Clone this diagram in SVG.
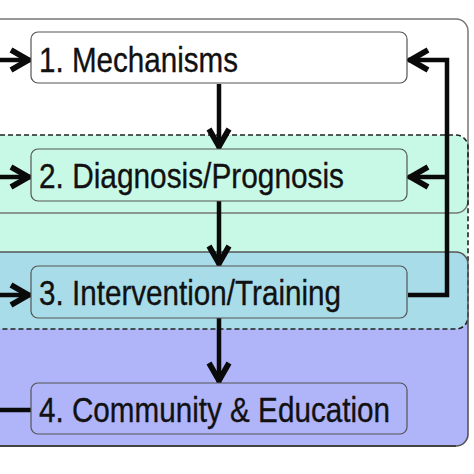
<svg xmlns="http://www.w3.org/2000/svg" width="474" height="474" viewBox="0 0 474 474">
<style>
.lbl{font-family:"Liberation Sans",Arial,sans-serif;font-size:35px;fill:#111;stroke:#111;stroke-width:0.35}
.box{stroke:#555;stroke-width:1.2}
.con{fill:none;stroke:#0a0a0a;stroke-width:4.5;stroke-linejoin:miter}
</style>
<defs>
<marker id="ah" markerUnits="userSpaceOnUse" markerWidth="30" markerHeight="30" viewBox="-20 -12 24 24" refX="0" refY="0" orient="auto" overflow="visible">
<path d="M-16,-8 L-2,0 L-16,8" fill="none" stroke="#0a0a0a" stroke-width="4.5" stroke-linejoin="miter" stroke-linecap="butt"/>
</marker>
</defs>
<rect width="474" height="474" fill="#ffffff"/>
<g id="frames">
<rect x="-20" y="135" width="488" height="194" rx="12" fill="#c8f8e6"/>
<rect x="-20" y="252" width="488" height="194" rx="12" fill="#b0b4f8"/>
<path d="M-20,252 H456 A12,12 0 0 1 468,264 V317 A12,12 0 0 1 456,329 H-20 Z" fill="#a8dce8"/>
<rect x="-20" y="19" width="488" height="194" rx="12" fill="none" stroke="#777" stroke-width="1.5"/>
<rect x="-20" y="135" width="488" height="194" rx="12" fill="none" stroke="#222" stroke-width="1.6" stroke-dasharray="5 3"/>
<rect x="-20" y="252" width="488" height="194" rx="12" fill="none" stroke="#555" stroke-width="1.6"/>
<line x1="-20" y1="446" x2="456" y2="446" stroke="#444" stroke-width="2"/>
</g>
<g id="connectors">
<path class="con" d="M0,60 H31" marker-end="url(#ah)"/>
<path class="con" d="M0,177 H31" marker-end="url(#ah)"/>
<path class="con" d="M0,295 H31" marker-end="url(#ah)"/>
<path class="con" d="M0,410 H31"/>
<path class="con" d="M219,84 V149" marker-end="url(#ah)"/>
<path class="con" d="M219,201 V266" marker-end="url(#ah)"/>
<path class="con" d="M219,318 V383" marker-end="url(#ah)"/>
<path class="con" d="M408,295 H447 V60 H408" marker-end="url(#ah)"/>
<path class="con" d="M447,177 H408" marker-end="url(#ah)"/>
</g>
<g id="node1">
<rect class="box" x="31" y="32" width="376" height="51" rx="7" fill="#ffffff"/>
<text class="lbl" x="39" y="72" textLength="199" lengthAdjust="spacingAndGlyphs">1. Mechanisms</text>
</g>
<g id="node2">
<rect class="box" x="31" y="149" width="376" height="52" rx="7" fill="#c8f8e6"/>
<text class="lbl" x="39" y="188" textLength="305" lengthAdjust="spacingAndGlyphs">2. Diagnosis/Prognosis</text>
</g>
<g id="node3">
<rect class="box" x="31" y="266" width="376" height="52" rx="7" fill="#a8dce8"/>
<text class="lbl" x="39" y="305" textLength="302" lengthAdjust="spacingAndGlyphs">3. Intervention/Training</text>
</g>
<g id="node4">
<rect class="box" x="31" y="383" width="376" height="51" rx="7" fill="#b0b4f8"/>
<text class="lbl" x="39" y="422" textLength="351" lengthAdjust="spacingAndGlyphs">4. Community &amp; Education</text>
</g>
</svg>
